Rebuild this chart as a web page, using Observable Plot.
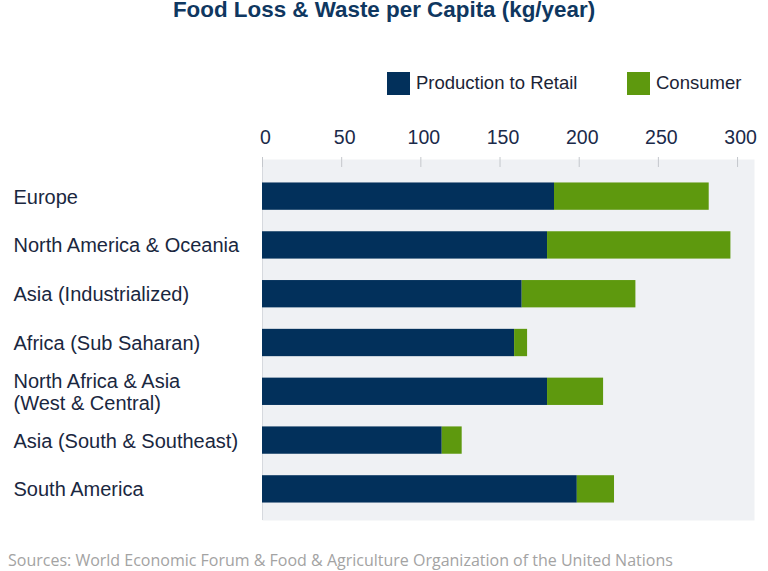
<!DOCTYPE html>
<html>
<head>
<meta charset="utf-8">
<script src="https://cdn.jsdelivr.net/npm/d3@7"></script>
<script src="https://cdn.jsdelivr.net/npm/@observablehq/plot@0.6"></script>
<style>
  html, body { margin: 0; padding: 0; background: #ffffff; }
  body { width: 768px; height: 571px; position: relative; overflow: hidden; font-family: "Liberation Sans", Arial, sans-serif; }
  #title { position: absolute; left: 0; width: 768px; top: 0px; text-align: center; font-size: 22.4px; line-height: 20px; font-weight: bold; color: #0f3760; }
  #chart { position: absolute; left: 0; top: 0; }
  .leg { position: absolute; font-size: 18.5px; line-height: 23px; color: #1b2436; white-space: nowrap; }
  .sw { position: absolute; width: 23px; height: 23px; }
  #caption { position: absolute; left: 8px; top: 549px; font-family: "Open Sans", sans-serif; font-size: 16px; line-height: 22px; color: #a3a3a3; white-space: nowrap; }
</style>
</head>
<body>
<div id="chart"></div>
<div id="title">Food Loss &amp; Waste per Capita (kg/year)</div>
<div id="legend"></div>
<div id="caption">Sources: World Economic Forum &amp; Food &amp; Agriculture Organization of the United Nations</div>
<script>
const regions = [
  "Europe",
  "North America & Oceania",
  "Asia (Industrialized)",
  "Africa (Sub Saharan)",
  "North Africa & Asia\n(West & Central)",
  "Asia (South & Southeast)",
  "South America"
];
const productionToRetail = [184.4, 180, 164, 159.2, 180, 113.5, 198.8];
const consumer = [97.7, 115.8, 71.8, 8.2, 35.4, 12.6, 23.5];
const seriesNames = ["Production to Retail", "Consumer"];
const seriesColors = ["#02305b", "#5e990e"];
const xTicks = [0, 50, 100, 150, 200, 250, 300];

const rows = [];
regions.forEach((r, i) => {
  rows.push({region: r, series: seriesNames[0], value: productionToRetail[i]});
  rows.push({region: r, series: seriesNames[1], value: consumer[i]});
});

// legend
const legend = document.getElementById("legend");
const legPos = [{sw: 387, tx: 416}, {sw: 627, tx: 656}];
seriesNames.forEach((s, i) => {
  const sw = document.createElement("div");
  sw.className = "sw";
  sw.style.left = legPos[i].sw + "px";
  sw.style.top = "72px";
  sw.style.background = seriesColors[i];
  legend.appendChild(sw);
  const t = document.createElement("div");
  t.className = "leg";
  t.style.left = legPos[i].tx + "px";
  t.style.top = "71px";
  t.textContent = s;
  legend.appendChild(t);
});

const W = 768, H = 530;
const plot = Plot.plot({
  width: W,
  height: H,
  marginLeft: 262,
  marginRight: 14,
  marginTop: 159,
  marginBottom: 10,
  style: {fontFamily: "'Liberation Sans', Arial, sans-serif", background: "transparent"},
  x: {domain: [0, 310.7], axis: null},
  y: {domain: regions, range: [161, 524], padding: 0.44, round: false, axis: null},
  color: {domain: seriesNames, range: seriesColors},
  marks: [
    Plot.frame({fill: "#eff1f4", stroke: null}),
    Plot.ruleX([0], {stroke: "#d6d9de"}),
    Plot.ruleX(xTicks, {stroke: "#c4c7cc", insetTop: -2, insetBottom: 353}),
    Plot.axisX(xTicks, {anchor: "top", label: null, tickSize: 0, tickPadding: 16, dx: 3, fontSize: 19.5, fill: "#1b2a4a", tickFormat: d => String(d)}),
    Plot.barX(rows, Plot.stackX({y: "region", x: "value", fill: "series", order: seriesNames})),
    Plot.text(regions, {y: d => d, text: d => d, frameAnchor: "left", dx: -249, textAnchor: "start", fontSize: 20, fill: "#1a2740", lineHeight: 1.1})
  ]
});
document.getElementById("chart").appendChild(plot);
</script>
</body>
</html>
